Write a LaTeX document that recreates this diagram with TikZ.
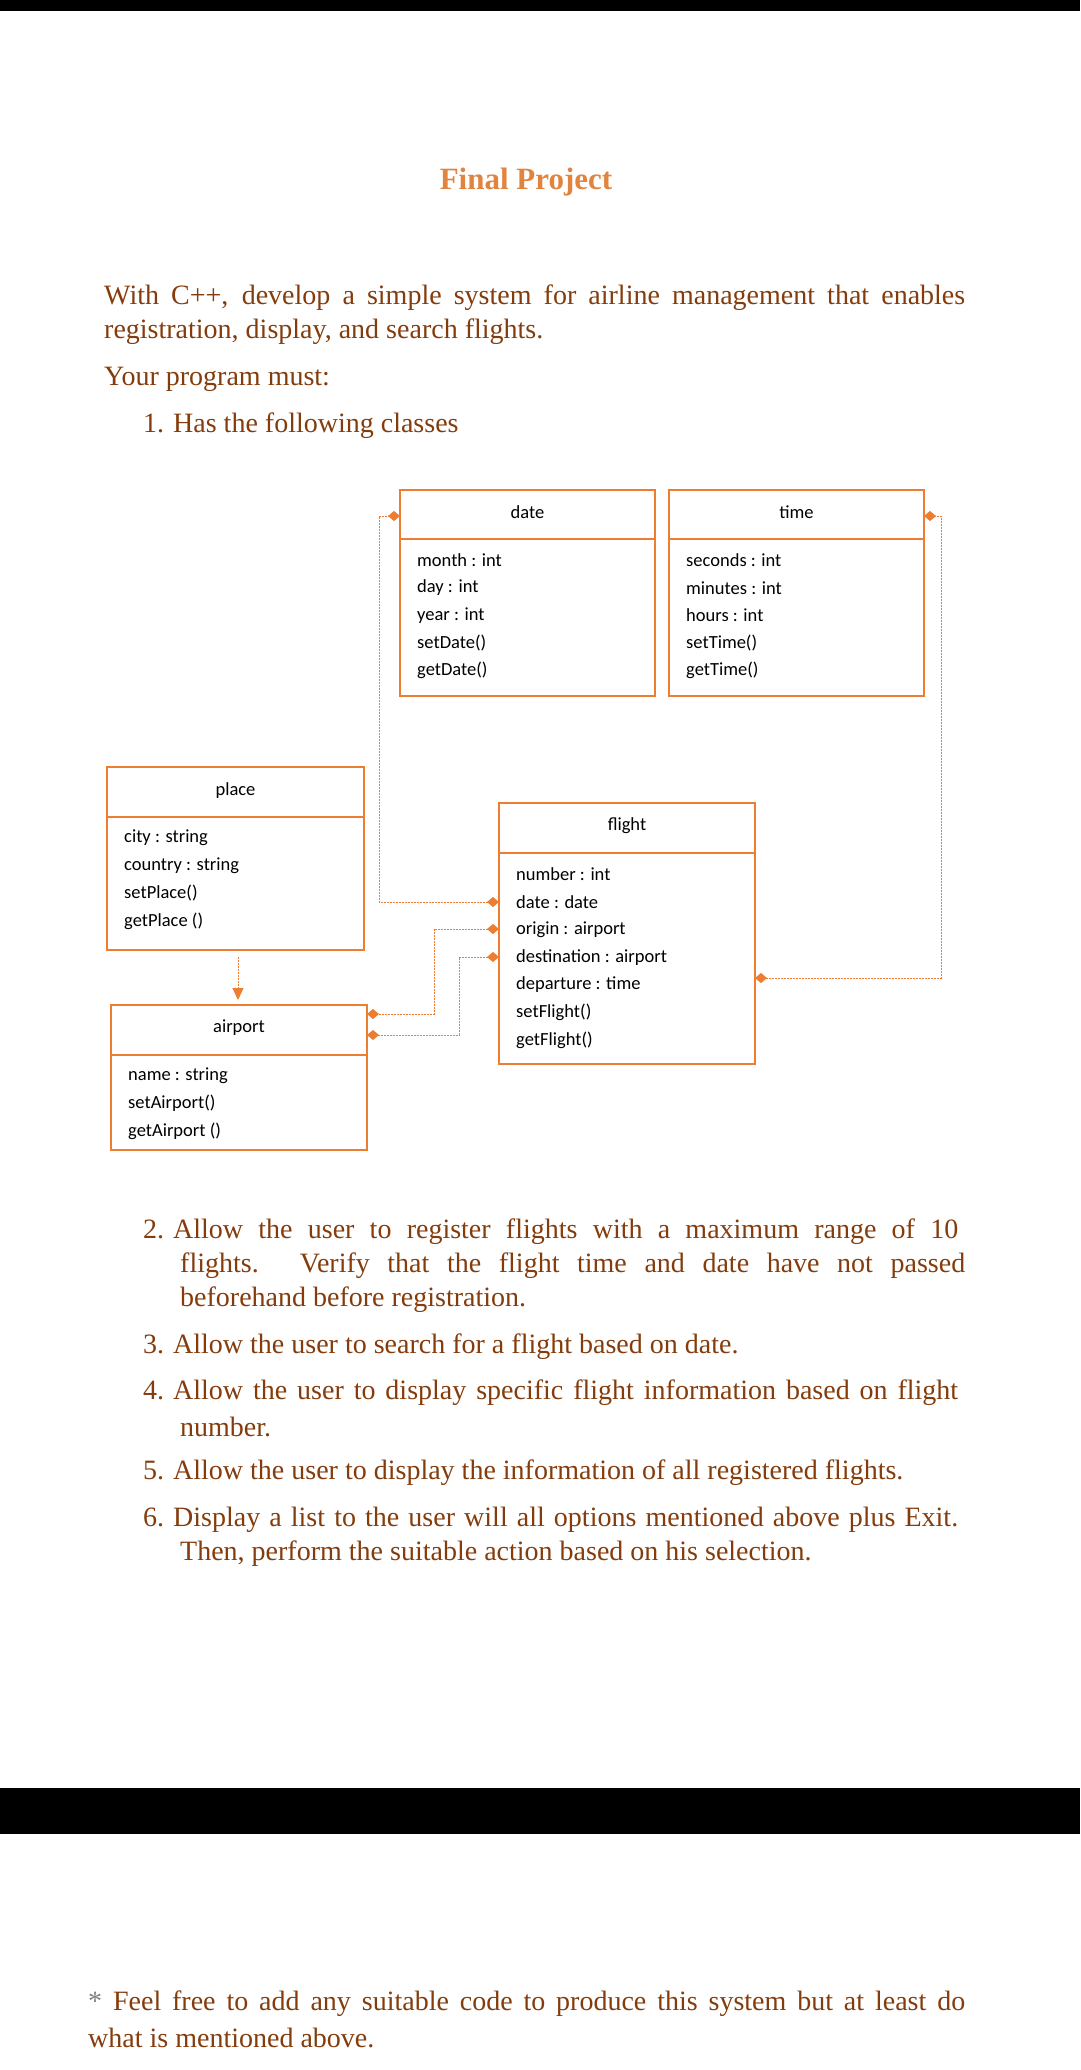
\documentclass[tikz,border=0pt]{standalone}
\usepackage{fontspec}
\setmainfont{Liberation Serif}
\newfontfamily\uml{Carlito}
\usetikzlibrary{arrows.meta}
\definecolor{org}{HTML}{ED7D31}
\definecolor{ttl}{HTML}{E0843F}
\definecolor{brn}{HTML}{843C0C}
\begin{document}
\begin{tikzpicture}[x=1pt,y=-1pt,
  txt/.style={anchor=west,inner sep=0pt,text=brn,font=\fontsize{28}{34}\selectfont},
  ut/.style={anchor=west,inner sep=0pt,font=\uml\fontsize{18.5}{22}\selectfont},
  box/.style={draw=org,line width=2.4pt},
  conn/.style={draw=org,line width=0.9pt,dash pattern=on 2pt off 1pt},
  dia/.style={-{Diamond[length=12pt,width=10pt,fill=org]}},
  dia2/.style={{Diamond[length=12pt,width=10pt,fill=org]}-{Diamond[length=12pt,width=10pt,fill=org]}}]
\useasboundingbox (0,0) rectangle (1080,2070);
\fill[black] (0,0) rectangle (1080,11);
\fill[black] (0,1788) rectangle (1080,1834);
\node[inner sep=0pt,text=ttl,font=\bfseries\fontsize{31}{36}\selectfont] (title) at (526,182) {Final Project};
\node[txt] (p1) at (104,298) {\makebox[861pt][s]{With C++, develop a simple system for airline management that enables}};
\node[txt] (p2) at (104,332) {registration, display, and search flights.};
\node[txt] (p3) at (104,379) {Your program must:};
\node[txt] (n1) at (143,426) {1.\hspace{9pt}Has the following classes};
% boxes
\draw[box] (400,490) rectangle (655,696); \draw[box] (400,539) -- (655,539);
\node[ut] (dateh) at (527.5,512) [anchor=center] {date};
\draw[box] (669,490) rectangle (924,696); \draw[box] (669,539) -- (924,539);
\node[ut] (timeh) at (796.5,512) [anchor=center] {time};
\draw[box] (107,767) rectangle (364,950); \draw[box] (107,817) -- (364,817);
\node[ut] (placeh) at (235.5,791) [anchor=center] {place};
\draw[box] (499,803) rectangle (755,1064); \draw[box] (499,853) -- (755,853);
\node[ut] (flighth) at (627,826) [anchor=center] {flight};
\draw[box] (111,1005) rectangle (367,1150); \draw[box] (111,1055) -- (367,1055);
\node[ut] (airh) at (239,1028) [anchor=center] {airport};
\foreach \t [count=\i from 0] in {month : int,day : int,year : int,setDate(),getDate()}
  \node[ut] (d\i) at (417,560+27.7*\i) {\t};
\foreach \t [count=\i from 0] in {seconds : int,minutes : int,hours : int,setTime(),getTime()}
  \node[ut] (t\i) at (686,560+27.7*\i) {\t};
\foreach \t [count=\i from 0] in {city : string,country : string,setPlace(),getPlace ()}
  \node[ut] (p\i) at (124,838+27.7*\i) {\t};
\foreach \t [count=\i from 0] in {number : int,date : date,origin : airport,destination : airport,departure : time,setFlight(),getFlight()}
  \node[ut] (f\i) at (516,874+27.7*\i) {\t};
\foreach \t [count=\i from 0] in {name : string,setAirport(),getAirport ()}
  \node[ut] (a\i) at (128,1076+27.7*\i) {\t};
% connectors
\coordinate (fd) at (499,902); \coordinate (dd) at (400,516);
\coordinate (tr) at (924,516); \coordinate (fr) at (755,978);
\coordinate (fo) at (499,929); \coordinate (fde) at (499,957);
\coordinate (ao) at (367,1014); \coordinate (ade) at (367,1035);
\draw[conn,dia2] (fd) -- (379,902) -- (379,516) -- (dd);
\draw[conn,dia2] (fr) -- (941,978) -- (941,516) -- (tr);
\draw[conn,dia2] (fo) -- (434,929) -- (434,1014) -- (ao);
\draw[conn,dia2] (fde) -- (459,957) -- (459,1035) -- (ade);
\coordinate (pb) at (238,957); \coordinate (at) at (238,1000);
\draw[conn,-{Triangle[length=12pt,width=11pt,fill=org]}] (pb) -- (at);
% items
\node[txt] (n2a) at (143,1232) {2.\hspace{9pt}\makebox[785pt][s]{Allow the user to register flights with a maximum range of 10}};
\node[txt] (n2b) at (180,1266) {\makebox[785pt][s]{flights. Verify that the flight time and date have not passed}};
\node[txt] (n2c) at (180,1300) {beforehand before registration.};
\node[txt] (n3) at (143,1347) {3.\hspace{9pt}Allow the user to search for a flight based on date.};
\node[txt] (n4a) at (143,1393) {4.\hspace{9pt}\makebox[785pt][s]{Allow the user to display specific flight information based on flight}};
\node[txt] (n4b) at (180,1427) {number.};
\node[txt] (n5) at (143,1473) {5.\hspace{9pt}Allow the user to display the information of all registered flights.};
\node[txt] (n6a) at (143,1520) {6.\hspace{9pt}\makebox[785pt][s]{Display a list to the user will all options mentioned above plus Exit.}};
\node[txt] (n6b) at (180,1554) {Then, perform the suitable action based on his selection.};
\node[txt] (fa) at (88,2004) {\makebox[877pt][s]{\textcolor{gray}{*} Feel free to add any suitable code to produce this system but at least do}};
\node[txt] (fb) at (88,2038) {what is mentioned above.};
\end{tikzpicture}
\end{document}
